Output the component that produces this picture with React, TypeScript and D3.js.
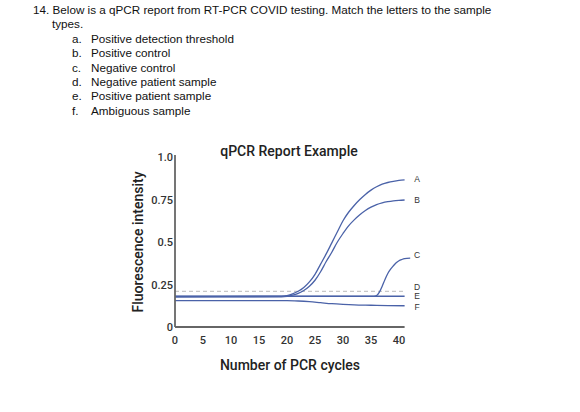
import * as d3 from "d3";

const questionLines = [
  "14. Below is a qPCR report from RT-PCR COVID testing. Match the letters to the sample",
  "types.",
];
const optionLetters = ["a.", "b.", "c.", "d.", "e.", "f."];
const optionTexts = [
  "Positive detection threshold",
  "Positive control",
  "Negative control",
  "Negative patient sample",
  "Positive patient sample",
  "Ambiguous sample",
];

const xTicks = [0, 5, 10, 15, 20, 25, 30, 35, 40];
const yTicks = [0, 0.25, 0.5, 0.75, 1.0];
const yTickLabels = ["0", "0.25", "0.5", "0.75", "1.0"];

// curves (cycle, fluorescence)
const cyclesA = [0, 19, 20, 21, 22, 23, 24, 25, 26, 27, 28, 29, 30, 31, 32, 33, 34, 35, 36, 37, 38, 39, 40, 41];
const valuesA = [0.178, 0.18, 0.185, 0.195, 0.21, 0.232, 0.265, 0.31, 0.37, 0.43, 0.495, 0.56, 0.625, 0.675, 0.715, 0.75, 0.78, 0.805, 0.825, 0.84, 0.85, 0.857, 0.862, 0.865];

const cyclesB = [0, 19, 20, 21, 22, 23, 24, 25, 26, 27, 28, 29, 30, 31, 32, 33, 34, 35, 36, 37, 38, 39, 40, 41];
const valuesB = [0.178, 0.178, 0.18, 0.187, 0.198, 0.215, 0.24, 0.275, 0.325, 0.385, 0.44, 0.5, 0.55, 0.595, 0.63, 0.66, 0.685, 0.705, 0.72, 0.73, 0.737, 0.742, 0.745, 0.747];

const cyclesC = [0, 35.5, 36, 36.5, 37, 37.5, 38, 38.5, 39, 39.5, 40, 40.5, 41, 42];
const valuesC = [0.18, 0.18, 0.185, 0.205, 0.24, 0.28, 0.315, 0.34, 0.36, 0.378, 0.39, 0.397, 0.402, 0.405];

const cyclesE = [0, 41];
const valuesE = [0.181, 0.181];

const cyclesF = [0, 20, 22, 24, 26, 28, 30, 32, 35, 38, 41];
const valuesF = [0.155, 0.155, 0.153, 0.149, 0.143, 0.137, 0.133, 0.13, 0.128, 0.126, 0.125];

const threshold = 0.21;
const curveLetters = ["A", "B", "C", "D", "E", "F"];
const letterValues = [0.87, 0.75, 0.425, 0.235, 0.18, 0.115];

const LINE = "#4a62a8";
const CHART_FONT = "Roboto, 'DejaVu Sans Condensed', sans-serif";

export default function App() {
  const x = d3.scaleLinear().domain([0, 40]).range([175, 399]);
  const y = d3.scaleLinear().domain([0, 1]).range([327, 157]);

  const line = d3
    .line<[number, number]>()
    .x((d) => x(d[0]))
    .y((d) => y(d[1]))
    .curve(d3.curveMonotoneX);

  const series = [
    [cyclesA, valuesA],
    [cyclesB, valuesB],
    [cyclesC, valuesC],
    [cyclesE, valuesE],
    [cyclesF, valuesF],
  ].map(([cs, vs]) => cs.map((c, i) => [c, vs[i]] as [number, number]));

  return (
    <svg
      width={580}
      height={412}
      style={{ position: "absolute", left: 0, top: 0, background: "#fff" }}
    >
      <g fontFamily="'Liberation Sans', Arial, sans-serif" fontSize={11.7} fill="#111">
        <text x={33} y={14}>{questionLines[0]}</text>
        <text x={52} y={28}>{questionLines[1]}</text>
        {optionTexts.map((t, i) => (
          <g key={t}>
            <text x={72} y={43 + i * 14.3}>{optionLetters[i]}</text>
            <text x={91} y={43 + i * 14.3}>{t}</text>
          </g>
        ))}
      </g>

      <text x={289} y={155.5} textAnchor="middle" fontFamily={CHART_FONT} fontSize={14} fontWeight={500} fill="#222">
        qPCR Report Example
      </text>

      {/* threshold */}
      <line
        x1={x(0)}
        x2={x(41)}
        y1={y(threshold)}
        y2={y(threshold)}
        stroke="#bbb"
        strokeWidth={1}
        strokeDasharray="4,3"
      />

      {series.map((d, i) => (
        <path key={i} d={line(d) ?? ""} fill="none" stroke={LINE} strokeWidth={1.3} />
      ))}

      {/* axes */}
      <line x1={x(0)} x2={x(0)} y1={y(1.0) - 2} y2={y(0)} stroke="#666" strokeWidth={1.8} />
      <line x1={x(0)} x2={x(41)} y1={y(0)} y2={y(0)} stroke="#666" strokeWidth={1.8} />

      <g fontFamily={CHART_FONT} fontSize={11} fontWeight={500} fill="#333">
        {yTicks.map((t, i) => (
          <text key={t} x={173} y={y(t) + 4} textAnchor="end">{yTickLabels[i]}</text>
        ))}
        {xTicks.map((t) => (
          <text key={t} x={x(t)} y={343.5} textAnchor="middle">{t}</text>
        ))}
      </g>

      <g fontFamily="'Liberation Sans', Arial, sans-serif" fontSize={8.5} fill="#333" textAnchor="middle">
        {curveLetters.map((l, i) => (
          <text key={l} x={417} y={y(letterValues[i]) + 3}>{l}</text>
        ))}
      </g>

      <text
        transform="translate(143,242) rotate(-90)"
        textAnchor="middle"
        fontFamily={CHART_FONT}
        fontSize={14}
        fontWeight={500}
        fill="#222"
      >
        Fluorescence intensity
      </text>
      <text x={290} y={370} textAnchor="middle" fontFamily={CHART_FONT} fontSize={14} fontWeight={500} fill="#222">
        Number of PCR cycles
      </text>
    </svg>
  );
}
